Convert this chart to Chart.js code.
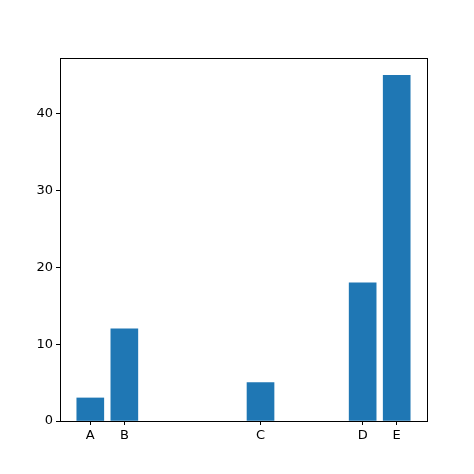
<!DOCTYPE html>
<html>
<head>
<meta charset="utf-8">
<script src="https://cdn.jsdelivr.net/npm/chart.js@4/dist/chart.umd.min.js"></script>
<style>
  html, body { margin: 0; padding: 0; background: #fff; }
  #wrap { width: 474px; height: 474px; }
</style>
</head>
<body>
<div id="wrap"><canvas id="c" width="474" height="474"></canvas></div>
<script>
const LABELS = ['A', 'B', 'C', 'D', 'E'];
const POSITIONS = [0, 1, 5, 8, 9];
const VALUES = [3, 12, 5, 18, 45];
const Y_TICKS = [0, 10, 20, 30, 40];

// full black frame around the plot area
const frame = {
    id: 'frame',
    afterDraw(chart) {
        const { ctx, chartArea: a } = chart;
        ctx.save();
        ctx.strokeStyle = '#000';
        ctx.lineWidth = 1;
        ctx.strokeRect(a.left + 0.5, a.top + 0.5, a.right - a.left, a.bottom - a.top);
        ctx.restore();
    }
};

new Chart(document.getElementById('c'), {
    type: 'bar',
    data: {
        datasets: [{
            data: POSITIONS.map((x, i) => ({ x, y: VALUES[i] })),
            backgroundColor: '#1f77b4',
            barThickness: 27
        }]
    },
    options: {
        responsive: false,
        animation: false,
        layout: { padding: { left: 0, top: 58, right: 47, bottom: 0 } },
        plugins: { legend: { display: false }, tooltip: { enabled: false } },
        scales: {
            x: {
                type: 'linear',
                offset: false,
                min: -0.89, max: 9.89,
                afterBuildTicks: s => { s.ticks = POSITIONS.map(v => ({ value: v })); },
                afterFit: s => { s.height = 53; },
                ticks: {
                    autoSkip: false, maxRotation: 0, color: '#000',
                    font: { family: 'DejaVu Sans', size: 13 },
                    callback: v => LABELS[POSITIONS.indexOf(v)]
                },
                grid: { offset: false, drawOnChartArea: false, drawTicks: true, tickLength: 4, color: '#000' },
                border: { display: true, color: '#000' }
            },
            y: {
                min: 0, max: 47.25,
                afterBuildTicks: s => { s.ticks = Y_TICKS.map(v => ({ value: v })); },
                afterFit: s => { s.width = 60; },
                ticks: { color: '#000', font: { family: 'DejaVu Sans', size: 13 } },
                grid: { drawOnChartArea: false, drawTicks: true, tickLength: 4, color: '#000' },
                border: { display: true, color: '#000' }
            }
        }
    },
    plugins: [frame]
});
</script>
</body>
</html>
